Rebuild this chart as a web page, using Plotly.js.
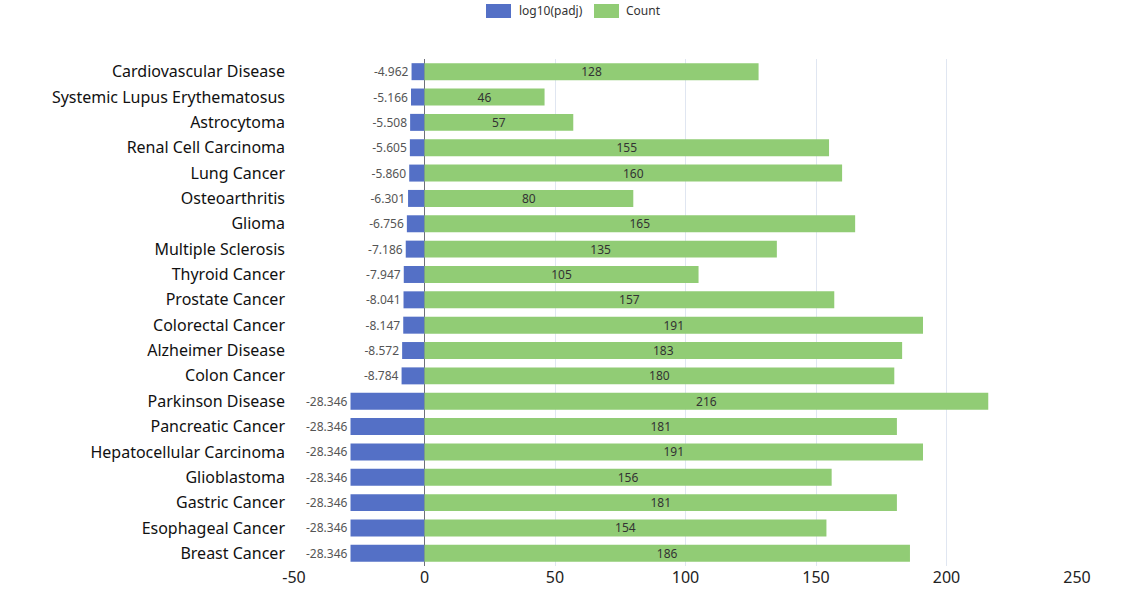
<!DOCTYPE html>
<html>
<head>
<meta charset="utf-8">
<script src="https://cdn.plot.ly/plotly-3.0.1.min.js"></script>
<style>
  html, body { margin: 0; padding: 0; background: #fff; }
  #chart { width: 1140px; height: 597px; }
</style>
</head>
<body>
<div id="chart"></div>
<script>
// Disease categories, listed top to bottom
const diseases = [
  'Cardiovascular Disease', 'Systemic Lupus Erythematosus', 'Astrocytoma',
  'Renal Cell Carcinoma', 'Lung Cancer', 'Osteoarthritis', 'Glioma',
  'Multiple Sclerosis', 'Thyroid Cancer', 'Prostate Cancer',
  'Colorectal Cancer', 'Alzheimer Disease', 'Colon Cancer',
  'Parkinson Disease', 'Pancreatic Cancer', 'Hepatocellular Carcinoma',
  'Glioblastoma', 'Gastric Cancer', 'Esophageal Cancer', 'Breast Cancer'
];

// log10 of adjusted p-value per disease
const log10Padj = [
  -4.962, -5.166, -5.508, -5.605, -5.860, -6.301, -6.756, -7.186, -7.947,
  -8.041, -8.147, -8.572, -8.784, -28.346, -28.346, -28.346, -28.346,
  -28.346, -28.346, -28.346
];

// Number of genes per disease
const geneCount = [
  128, 46, 57, 155, 160, 80, 165, 135, 105, 157, 191, 183, 180,
  216, 181, 191, 156, 181, 154, 186
];

const xTicks = [-50, 0, 50, 100, 150, 200, 250];

const seriesNames = ['log10(padj)', 'Count'];
const seriesColors = ['#5470c6', '#91cc75'];

const W = 1140, H = 597;
const M = { l: 294, r: 63, t: 59, b: 31 };
const plotW = W - M.l - M.r;
const plotH = H - M.t - M.b;
const px = x => (x - M.l) / plotW;
const py = y => 1 - (y - M.t) / plotH;

const FONT = '"Noto Sans", "DejaVu Sans", sans-serif';

const traces = [
  {
    type: 'bar',
    orientation: 'h',
    name: seriesNames[0],
    y: diseases,
    x: log10Padj,
    marker: { color: seriesColors[0] },
    texttemplate: '%{x:.3f}',
    textposition: 'outside',
    constraintext: 'none',
    textfont: { family: FONT, size: 12, color: '#555' },
    cliponaxis: false,
    hoverinfo: 'y+x'
  },
  {
    type: 'bar',
    orientation: 'h',
    name: seriesNames[1],
    y: diseases,
    x: geneCount,
    marker: { color: seriesColors[1] },
    texttemplate: '%{x}',
    textposition: 'inside',
    insidetextanchor: 'middle',
    constraintext: 'none',
    textangle: 0,
    textfont: { family: FONT, size: 12, color: '#333' },
    hoverinfo: 'y+x'
  }
];

// Legend drawn as swatches plus labels across the top
const legendItems = [
  { sx0: 486, sx1: 511, tx: 517 },
  { sx0: 594, sx1: 619, tx: 624 }
];
const shapes = [];
const annotations = [];
legendItems.forEach((it, i) => {
  shapes.push({
    type: 'rect', xref: 'paper', yref: 'paper',
    x0: px(it.sx0), x1: px(it.sx1), y0: py(18), y1: py(4),
    fillcolor: seriesColors[i], line: { width: 0 }
  });
  annotations.push({
    xref: 'paper', yref: 'paper', x: px(it.tx), y: py(11),
    xanchor: 'left', yanchor: 'middle', showarrow: false,
    text: seriesNames[i],
    font: { family: FONT, size: 12, color: '#333' }
  });
});

const layout = {
  width: W, height: H,
  margin: M,
  paper_bgcolor: '#fff',
  plot_bgcolor: '#fff',
  barmode: 'overlay',
  bargap: 0.33,
  showlegend: false,
  font: { family: FONT, color: '#333' },
  xaxis: {
    range: [-50, 250],
    tickvals: xTicks,
    ticktext: xTicks.map(String),
    showgrid: true,
    gridcolor: '#e0e6f1',
    gridwidth: 1,
    zeroline: true,
    zerolinecolor: '#6e7079',
    zerolinewidth: 1,
    showline: false,
    ticks: '',
    tickfont: { family: FONT, size: 16, color: '#222' },
    fixedrange: true
  },
  yaxis: {
    type: 'category',
    categoryorder: 'array',
    categoryarray: diseases,
    autorange: 'reversed',
    showgrid: false,
    zeroline: false,
    showline: false,
    ticks: '',
    ticklabelstandoff: 8,
    tickfont: { family: FONT, size: 16, color: '#111' },
    fixedrange: true
  },
  shapes: shapes,
  annotations: annotations
};

Plotly.newPlot('chart', traces, layout, { displayModeBar: false, staticPlot: true });
</script>
</body>
</html>
